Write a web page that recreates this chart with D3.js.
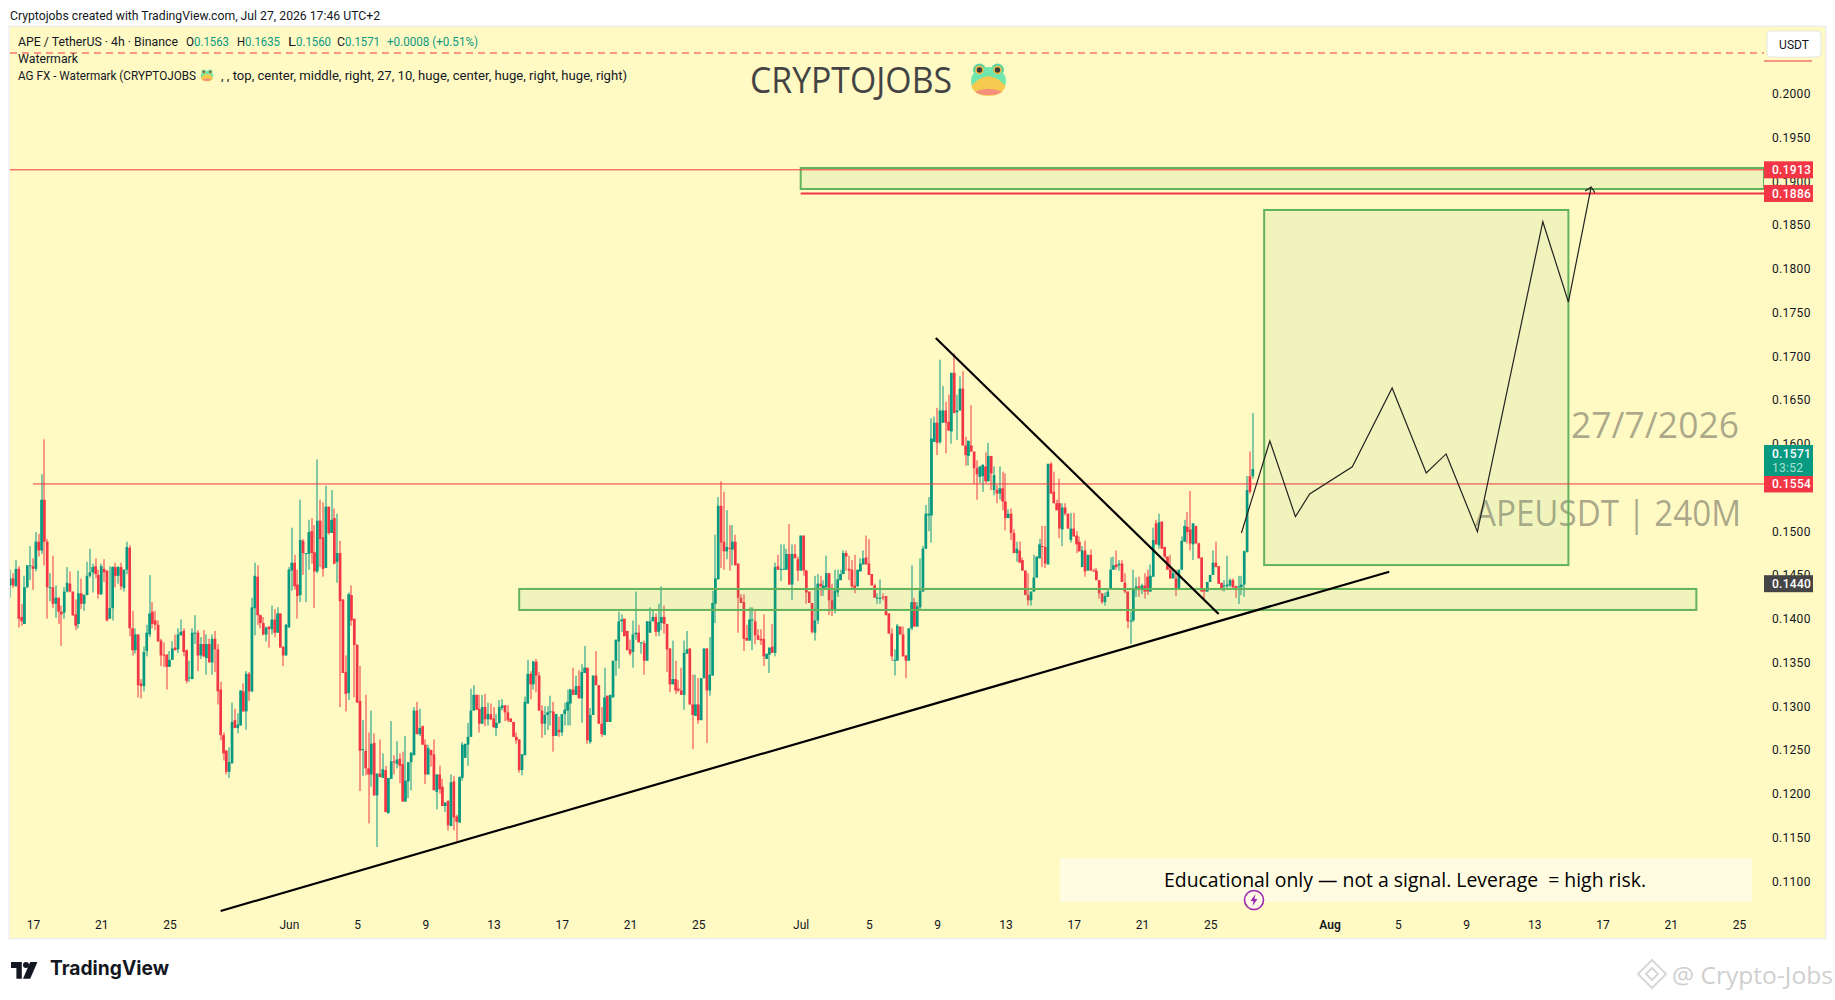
<!DOCTYPE html>
<html>
<head>
<meta charset="utf-8">
<script src="https://cdn.jsdelivr.net/npm/d3@7"></script>
<style>
  html, body { margin: 0; padding: 0; background: #fff; overflow: hidden; }
  svg { display: block; font-family: Roboto, sans-serif; }
</style>
</head>
<body>
<div id="chart"></div>
<script>
// APE/USDT 4h candles, in units of 0.0001 USDT
const opens = [
1438,1446,1437,1457,1402,1394,1436,1460,1460,1457,
1488,1478,1536,1488,1435,1436,1417,1424,1408,1407,
1431,1440,1431,1405,1394,1429,1417,1427,1449,1453,
1460,1450,1428,1457,1455,1400,1412,1459,1449,1459,
1435,1456,1481,1389,1364,1382,1326,1323,1363,1382,
1408,1398,1393,1375,1359,1359,1345,1353,1367,1365,
1381,1386,1364,1332,1331,1383,1384,1358,1371,1355,
1371,1350,1377,1365,1319,1267,1249,1225,1235,1284,
1275,1278,1317,1294,1337,1317,1412,1448,1404,1395,
1382,1391,1388,1399,1384,1406,1368,1358,1390,1455,
1464,1439,1427,1489,1474,1474,1500,1476,1454,1512,
1493,1458,1528,1498,1515,1465,1475,1422,1339,1315,
1427,1400,1370,1306,1250,1249,1229,1222,1258,1198,
1223,1218,1227,1178,1217,1237,1234,1240,1234,1191,
1214,1236,1244,1295,1268,1277,1256,1222,1250,1245,
1202,1222,1208,1186,1192,1163,1214,1174,1167,1218,
1241,1256,1265,1295,1313,1297,1280,1299,1285,1291,
1286,1275,1281,1298,1301,1293,1286,1282,1265,1262,
1227,1244,1303,1337,1325,1351,1335,1295,1280,1290,
1293,1294,1266,1273,1270,1291,1295,1303,1319,1313,
1323,1309,1338,1344,1259,1290,1335,1324,1280,1267,
1312,1282,1310,1352,1374,1397,1400,1386,1365,1362,
1382,1384,1372,1372,1352,1384,1397,1402,1385,1395,
1402,1394,1366,1325,1331,1320,1318,1313,1360,1366,
1302,1289,1302,1284,1332,1366,1318,1335,1417,1445,
1529,1488,1477,1481,1479,1488,1463,1424,1419,1378,
1375,1398,1397,1381,1377,1377,1354,1359,1368,1361,
1460,1456,1456,1456,1474,1439,1474,1468,1455,1495,
1455,1431,1418,1384,1398,1440,1435,1436,1452,1421,
1411,1430,1444,1451,1475,1457,1456,1438,1437,1454,
1462,1470,1463,1451,1438,1423,1423,1425,1426,1406,
1383,1352,1352,1391,1382,1358,1352,1389,1419,1391,
1413,1431,1480,1518,1518,1602,1624,1602,1624,1638,
1625,1614,1681,1636,1638,1663,1598,1586,1598,1591,
1572,1562,1563,1574,1557,1586,1547,1547,1543,1549,
1534,1515,1520,1498,1475,1478,1467,1455,1427,1421,
1431,1447,1469,1483,1482,1462,1577,1545,1532,1532,
1502,1527,1520,1490,1503,1495,1488,1459,1478,1455,
1473,1455,1455,1444,1429,1419,1425,1435,1456,1462,
1461,1463,1441,1431,1397,1398,1433,1437,1433,1438,
1448,1431,1448,1509,1484,1511,1482,1471,1456,1446,
1446,1435,1456,1488,1505,1502,1485,1506,1486,1470,
1433,1431,1442,1450,1464,1460,1441,1437,1437,1438,
1444,1437,1436,1436,1439,1476,1563,1563];
const highs = [
1456,1452,1467,1460,1417,1449,1461,1483,1469,1499,
1497,1565,1605,1491,1452,1472,1438,1424,1415,1436,
1459,1454,1431,1422,1455,1446,1428,1465,1480,1463,
1469,1456,1463,1468,1455,1460,1460,1464,1460,1464,
1456,1488,1484,1409,1389,1382,1331,1368,1393,1450,
1419,1409,1398,1377,1373,1359,1363,1374,1382,1389,
1399,1389,1365,1352,1389,1404,1387,1379,1387,1382,
1377,1382,1386,1371,1328,1270,1250,1253,1304,1297,
1292,1318,1326,1340,1339,1424,1464,1461,1405,1402,
1391,1391,1415,1411,1413,1406,1368,1394,1459,1504,
1473,1456,1536,1491,1475,1513,1515,1507,1582,1536,
1533,1552,1528,1547,1526,1520,1489,1422,1358,1430,
1438,1400,1371,1346,1284,1313,1270,1295,1269,1223,
1262,1246,1232,1218,1283,1244,1260,1246,1248,1266,
1236,1247,1299,1305,1297,1278,1262,1256,1250,1262,
1222,1232,1217,1190,1192,1222,1220,1176,1220,1259,
1257,1281,1320,1324,1313,1313,1313,1314,1304,1303,
1299,1291,1307,1308,1301,1301,1286,1282,1270,1262,
1245,1311,1353,1340,1352,1354,1339,1301,1300,1300,
1312,1305,1291,1288,1291,1304,1319,1320,1344,1335,
1341,1348,1369,1344,1298,1335,1363,1324,1299,1344,
1312,1313,1352,1376,1408,1405,1400,1386,1376,1398,
1431,1393,1373,1375,1397,1413,1410,1406,1417,1437,
1415,1394,1366,1375,1352,1330,1344,1375,1386,1366,
1336,1336,1332,1332,1366,1366,1379,1432,1496,1539,
1557,1545,1524,1507,1507,1496,1463,1428,1428,1393,
1413,1413,1410,1388,1388,1405,1360,1367,1394,1464,
1473,1485,1485,1480,1508,1485,1485,1471,1495,1495,
1456,1431,1418,1449,1451,1449,1444,1472,1452,1440,
1456,1456,1456,1478,1478,1472,1467,1473,1456,1469,
1478,1495,1491,1451,1440,1429,1445,1429,1426,1406,
1389,1365,1394,1391,1391,1358,1389,1461,1424,1419,
1469,1483,1530,1539,1629,1631,1641,1696,1666,1648,
1656,1681,1703,1656,1677,1683,1608,1604,1644,1591,
1581,1574,1576,1590,1601,1586,1574,1553,1574,1568,
1566,1525,1526,1502,1488,1488,1470,1455,1452,1431,
1473,1471,1491,1506,1506,1577,1579,1568,1536,1560,
1532,1532,1520,1521,1521,1500,1494,1483,1489,1473,
1479,1457,1458,1444,1429,1430,1434,1470,1471,1478,
1467,1467,1452,1431,1408,1456,1447,1448,1440,1452,
1456,1462,1504,1513,1520,1511,1482,1471,1473,1456,
1456,1456,1494,1513,1522,1546,1509,1506,1487,1470,
1435,1442,1450,1478,1488,1460,1441,1444,1472,1446,
1446,1438,1449,1449,1478,1563,1591,1635];
const lows = [
1424,1435,1437,1390,1392,1394,1435,1444,1433,1454,
1471,1474,1461,1400,1420,1412,1401,1394,1369,1400,
1430,1430,1403,1387,1389,1411,1409,1427,1447,1430,
1446,1423,1427,1442,1397,1400,1398,1436,1440,1433,
1431,1451,1380,1358,1360,1310,1309,1317,1357,1379,
1389,1387,1374,1346,1345,1319,1345,1353,1364,1361,
1381,1357,1326,1328,1331,1371,1340,1354,1356,1336,
1350,1336,1339,1302,1261,1238,1222,1218,1234,1275,
1269,1278,1294,1273,1306,1316,1381,1393,1389,1381,
1374,1367,1382,1379,1384,1367,1346,1358,1390,1432,
1433,1400,1419,1450,1419,1456,1463,1412,1452,1459,
1448,1458,1496,1498,1462,1441,1299,1338,1294,1307,
1392,1310,1304,1203,1220,1221,1166,1208,1198,1139,
1219,1218,1179,1177,1217,1222,1229,1212,1191,1191,
1195,1204,1244,1268,1266,1256,1211,1222,1231,1204,
1182,1200,1186,1179,1158,1163,1158,1146,1167,1215,
1241,1232,1265,1295,1296,1270,1280,1277,1278,1284,
1275,1266,1280,1295,1283,1282,1282,1265,1257,1224,
1221,1244,1303,1308,1319,1316,1295,1264,1267,1273,
1278,1248,1266,1265,1266,1278,1278,1278,1313,1313,
1309,1281,1338,1257,1257,1290,1324,1280,1265,1267,
1282,1282,1310,1335,1343,1385,1380,1364,1358,1344,
1376,1373,1360,1336,1352,1384,1397,1380,1380,1387,
1383,1339,1316,1325,1314,1316,1313,1296,1360,1302,
1251,1289,1280,1284,1332,1258,1312,1335,1395,1445,
1458,1456,1468,1455,1461,1461,1384,1418,1363,1375,
1375,1364,1371,1376,1370,1346,1354,1338,1361,1357,
1456,1443,1456,1456,1439,1421,1469,1443,1455,1449,
1417,1418,1383,1375,1394,1426,1426,1435,1404,1403,
1406,1425,1444,1451,1455,1444,1435,1429,1437,1454,
1462,1462,1450,1438,1424,1417,1417,1421,1404,1383,
1352,1335,1352,1382,1357,1332,1352,1387,1391,1391,
1411,1431,1480,1500,1487,1602,1587,1600,1624,1589,
1615,1600,1635,1604,1638,1598,1575,1575,1591,1554,
1536,1555,1545,1555,1557,1547,1541,1532,1536,1524,
1501,1515,1490,1475,1465,1464,1455,1427,1415,1415,
1431,1447,1469,1459,1458,1462,1543,1532,1524,1492,
1483,1518,1503,1487,1494,1475,1477,1459,1448,1455,
1455,1454,1444,1423,1417,1415,1425,1435,1456,1456,
1455,1442,1429,1389,1371,1396,1425,1425,1428,1423,
1427,1431,1448,1485,1480,1480,1469,1456,1446,1446,
1426,1435,1456,1488,1486,1478,1467,1486,1469,1431,
1421,1431,1442,1450,1459,1440,1432,1431,1433,1436,
1435,1424,1417,1427,1425,1476,1543,1560];
const closes = [
1446,1438,1457,1400,1397,1436,1461,1461,1457,1488,
1478,1536,1488,1436,1436,1417,1424,1408,1405,1431,
1441,1431,1404,1392,1429,1417,1427,1449,1453,1459,
1451,1428,1460,1453,1398,1412,1459,1449,1459,1437,
1456,1482,1389,1364,1382,1324,1323,1362,1384,1406,
1394,1393,1374,1358,1358,1345,1353,1366,1364,1382,
1385,1362,1329,1333,1384,1384,1358,1371,1357,1371,
1350,1377,1365,1317,1267,1246,1225,1236,1282,1275,
1279,1318,1294,1337,1317,1413,1449,1404,1395,1382,
1390,1388,1399,1384,1406,1367,1358,1393,1456,1464,
1437,1426,1490,1475,1475,1499,1475,1454,1512,1491,
1457,1528,1498,1513,1463,1475,1420,1338,1314,1428,
1398,1370,1304,1249,1251,1229,1222,1257,1198,1223,
1219,1228,1179,1218,1237,1236,1239,1232,1191,1215,
1236,1247,1295,1268,1275,1256,1222,1252,1244,1204,
1222,1205,1186,1190,1164,1213,1173,1168,1219,1256,
1257,1265,1295,1313,1296,1280,1299,1285,1291,1285,
1276,1281,1299,1301,1293,1284,1282,1265,1261,1227,
1245,1305,1337,1325,1351,1335,1295,1280,1290,1293,
1294,1266,1291,1270,1291,1296,1305,1319,1313,1323,
1309,1339,1344,1261,1290,1335,1324,1280,1268,1310,
1282,1313,1352,1376,1397,1399,1380,1364,1360,1382,
1384,1373,1373,1352,1397,1397,1402,1385,1396,1402,
1394,1365,1325,1331,1318,1318,1313,1361,1365,1302,
1290,1302,1284,1332,1366,1318,1336,1418,1446,1529,
1487,1477,1482,1480,1488,1461,1424,1418,1377,1375,
1399,1399,1381,1376,1375,1357,1360,1367,1361,1459,
1456,1457,1457,1474,1439,1474,1469,1455,1495,1455,
1430,1418,1385,1398,1440,1437,1438,1452,1421,1411,
1432,1445,1451,1475,1471,1455,1437,1435,1456,1463,
1469,1462,1450,1438,1424,1424,1424,1424,1404,1383,
1357,1353,1392,1382,1357,1352,1389,1419,1391,1414,
1432,1480,1520,1520,1606,1624,1601,1638,1638,1624,
1615,1681,1635,1638,1663,1598,1587,1603,1591,1572,
1565,1574,1576,1557,1586,1566,1564,1543,1549,1534,
1515,1520,1498,1475,1480,1464,1455,1427,1421,1431,
1447,1471,1485,1482,1463,1577,1543,1532,1524,1503,
1527,1520,1503,1503,1494,1485,1477,1478,1454,1473,
1455,1454,1444,1429,1419,1426,1431,1456,1461,1459,
1463,1442,1431,1397,1398,1433,1437,1433,1438,1431,
1431,1449,1490,1485,1510,1480,1471,1456,1446,1452,
1435,1456,1489,1506,1499,1486,1509,1486,1469,1431,
1431,1442,1450,1464,1459,1440,1435,1438,1439,1444,
1436,1435,1437,1439,1477,1547,1545,1571];

const lastBar = "2026-07-27T12:00";
const barHours = 4;

const priceTicks = [0.2,0.195,0.19,0.185,0.18,0.175,0.17,0.165,0.16,0.155,0.15,0.145,0.14,0.135,0.13,0.125,0.12,0.115,0.11];
const timeTicks = ["2026-05-17","2026-05-21","2026-05-25","2026-06-01","2026-06-05","2026-06-09","2026-06-13","2026-06-17","2026-06-21","2026-06-25","2026-07-01","2026-07-05","2026-07-09","2026-07-13","2026-07-17","2026-07-21","2026-07-25","2026-08-01","2026-08-05","2026-08-09","2026-08-13","2026-08-17","2026-08-21","2026-08-25"];

// drawings on the chart, as [time, price]
const supportLine = [["2026-05-28T00:00",0.1066],["2026-08-04T12:00",0.14537]];
const resistanceLine = [["2026-07-08T22:00",0.17208],["2026-07-25T12:00",0.14054]];
const projection = [["2026-07-26T20:00",0.14979],["2026-07-28T12:00",0.16031],["2026-07-30T00:00",0.15166],["2026-07-30T20:00",0.15425],["2026-08-02T08:00",0.15737],["2026-08-04T16:00",0.16637],["2026-08-06T16:00",0.15665],["2026-08-07T20:00",0.15883],["2026-08-09T16:00",0.14994],["2026-08-13T12:00",0.18537],["2026-08-15T00:00",0.17619],["2026-08-16T08:00",0.18934]];
const zones = [
  { from: "2026-07-01T00:00", to: null, top: 0.19151, bottom: 0.18911 },
  { from: "2026-06-14T12:00", to: "2026-08-22T12:00", top: 0.1434, bottom: 0.141 },
  { from: "2026-07-28T04:00", to: "2026-08-15T00:00", top: 0.18671, bottom: 0.14613 }
];

const width = 1835, height = 1000;
const pane = { left: 10, right: 1825, top: 27, bottom: 938, axis: 1764 };
const GREEN = "#089981", RED = "#f23645", ZONE = "#62b35b", BG = "#fff9c4", TEXT = "#131722";

const parse = d3.utcParse("%Y-%m-%dT%H:%M");
const parseDay = d3.utcParse("%Y-%m-%d");

const x = d3.scaleUtc().domain([parseDay("2026-05-17"), parseDay("2026-08-25")]).range([33, 1739]);
const y = d3.scaleLinear().domain([0.11, 0.2]).range([881.2, 93.7]);

const end = parse(lastBar);
const bars = closes.map((c, i) => ({
  date: new Date(+end - (closes.length - 1 - i) * barHours * 3600e3),
  open: opens[i] / 1e4, high: highs[i] / 1e4, low: lows[i] / 1e4, close: c / 1e4
}));

const svg = d3.select("#chart").append("svg").attr("width", width).attr("height", height);

svg.append("defs").append("clipPath").attr("id", "plot").append("rect")
  .attr("x", pane.left).attr("y", pane.top)
  .attr("width", pane.axis - pane.left).attr("height", pane.bottom - pane.top);
svg.select("defs").append("marker")
  .attr("id", "head").attr("viewBox", "0 0 10 10").attr("refX", 9).attr("refY", 5)
  .attr("markerWidth", 10).attr("markerHeight", 10).attr("orient", "auto")
  .attr("markerUnits", "userSpaceOnUse")
  .append("path").attr("d", "M4,0L9,5L4,10").attr("fill", "none").attr("stroke", "#222").attr("stroke-width", 1.2);

// pane background
svg.append("rect").attr("x", pane.left - 0.75).attr("y", pane.top - 0.75)
  .attr("width", pane.right - pane.left + 1.5).attr("height", pane.bottom - pane.top + 1.5)
  .attr("fill", "none").attr("stroke", "#eeeeea").attr("stroke-width", 1.5);
svg.append("rect").attr("x", pane.left).attr("y", pane.top)
  .attr("width", pane.right - pane.left).attr("height", pane.bottom - pane.top)
  .attr("fill", BG);

const plot = svg.append("g").attr("clip-path", "url(#plot)");

// candles
const candle = plot.selectAll(".candle").data(bars).join("g").attr("class", "candle")
  .attr("fill", (d) => (d.close >= d.open ? GREEN : RED))
  .attr("stroke", "none");
candle.append("rect")
  .attr("x", (d) => Math.round(x(d.date)) - 0.5).attr("width", 1)
  .attr("y", (d) => y(d.high)).attr("height", (d) => y(d.low) - y(d.high));
candle.append("rect")
  .attr("x", (d) => x(d.date) - 1.35).attr("width", 2.7)
  .attr("y", (d) => y(Math.max(d.open, d.close)))
  .attr("height", (d) => Math.max(1, Math.abs(y(d.open) - y(d.close))));

// watermark
const big = (txt, xx, yy, len, fill) => svg.append("text").text(txt)
  .attr("x", xx).attr("y", yy).attr("textLength", len).attr("lengthAdjust", "spacingAndGlyphs")
  .style("font-family", "'Open Sans', sans-serif").style("font-size", "36px").attr("fill", fill);
big("CRYPTOJOBS", 750, 93, 202, "#434343");
big("27/7/2026", 1571, 438, 168, "rgba(67,67,67,0.45)");
big("APEUSDT | 240M", 1475, 526, 266, "rgba(67,67,67,0.45)");

const frog = (cx, cy, s) => {
  const g = svg.append("g").attr("transform", `translate(${cx},${cy}) scale(${s})`);
  g.append("circle").attr("cx", -9).attr("cy", -10).attr("r", 6.5).attr("fill", "#5fd3a0");
  g.append("circle").attr("cx", 9).attr("cy", -10).attr("r", 6.5).attr("fill", "#5fd3a0");
  g.append("ellipse").attr("rx", 17.5).attr("ry", 14).attr("cy", 1).attr("fill", "#6fe6ad");
  g.append("path").attr("d", "M-17,6C-11,-1 -6,-3 0,-4C6,-3 11,-1 17,6C15,13 8,16 0,16C-8,16 -15,13 -17,6Z").attr("fill", "#f6c94f");
  g.append("path").attr("d", "M-13,12C-8,8 8,8 13,12C9,16 -9,16 -13,12Z").attr("fill", "#f58f7c");
  [-9, 9].forEach((ex) => {
    g.append("circle").attr("cx", ex).attr("cy", -10).attr("r", 4.2).attr("fill", "#f6b73c");
    g.append("circle").attr("cx", ex).attr("cy", -10).attr("r", 2.7).attr("fill", "#3d3d3d");
  });
};
frog(988.5, 80, 1);

// zones
const zoneG = svg.append("g").attr("clip-path", "url(#plot)");
zoneG.selectAll("rect").data(zones).join("rect")
  .attr("x", (d) => x(parse(d.from)))
  .attr("y", (d) => y(d.top))
  .attr("width", (d) => (d.to ? x(parse(d.to)) : pane.axis) - x(parse(d.from)))
  .attr("height", (d) => y(d.bottom) - y(d.top))
  .attr("fill", "rgba(90,180,100,0.085)").attr("stroke", ZONE).attr("stroke-width", 2);

// horizontal levels
const levels = [
  { price: 0.20465, from: pane.left, w: 1.2, dash: "7 5" },
  { price: 0.1913, from: pane.left, w: 1 },
  { price: 0.1886, from: x(parse("2026-07-01T00:00")), w: 2 },
  { price: 0.1554, from: x(parse("2026-05-17T00:00")), w: 1 }
];
zoneG.selectAll("line").data(levels).join("line")
  .attr("x1", (d) => d.from).attr("x2", pane.axis)
  .attr("y1", (d) => y(d.price)).attr("y2", (d) => y(d.price))
  .attr("stroke", RED).attr("stroke-width", (d) => d.w)
  .attr("stroke-dasharray", (d) => d.dash || null);

// drawings
const line = d3.line().x((d) => x(parse(d[0]))).y((d) => y(d[1]));
svg.append("path").attr("d", line(supportLine)).attr("fill", "none").attr("stroke", "#000").attr("stroke-width", 2.2);
svg.append("path").attr("d", line(resistanceLine)).attr("fill", "none").attr("stroke", "#000").attr("stroke-width", 2.2);
svg.append("path").attr("d", line(projection)).attr("fill", "none").attr("stroke", "#222").attr("stroke-width", 1.2)
  .attr("marker-end", "url(#head)");

// disclaimer
svg.append("rect").attr("x", 1060).attr("y", 858).attr("width", 692).attr("height", 44).attr("fill", "#fffce2");
svg.append("text").text("Educational only — not a signal. Leverage  = high risk.")
  .attr("x", 1164).attr("y", 887).attr("textLength", 482).attr("lengthAdjust", "spacingAndGlyphs")
  .style("white-space", "pre")
  .style("font-family", "'Open Sans', sans-serif").style("font-size", "20px").attr("fill", "#000");

// lightning marker on the last bar
const bolt = svg.append("g").attr("transform", "translate(1254,900)");
bolt.append("circle").attr("r", 9.5).attr("fill", "#fff9e6").attr("stroke", "#9c27b0").attr("stroke-width", 1.6);
bolt.append("path").attr("d", "M1.5,-6L-3.5,1H-0.5L-1.5,6L3.5,-1H0.5Z").attr("fill", "#9c27b0");

// axes
const yAxis = svg.append("g").attr("transform", `translate(${pane.axis},0)`)
  .call(d3.axisRight(y).tickValues(priceTicks).tickFormat(d3.format(".4f")).tickSize(0).tickPadding(8));
yAxis.select(".domain").remove();
yAxis.selectAll("text").attr("fill", TEXT).style("font-family", "Roboto, sans-serif").style("font-size", "12px").style("letter-spacing", "0.3px");

const monthStart = d3.utcFormat("%d");
const xAxis = svg.append("g").attr("transform", "translate(0,920)")
  .call(d3.axisBottom(x).tickValues(timeTicks.map((d) => parseDay(d)))
    .tickFormat((d) => (monthStart(d) === "01" ? d3.utcFormat("%b")(d) : +monthStart(d))).tickSize(0).tickPadding(0));
xAxis.select(".domain").remove();
xAxis.selectAll("text").attr("fill", TEXT).style("font-family", "Roboto, sans-serif").style("font-size", "12px")
  .style("font-weight", (d) => (d3.utcFormat("%b%d")(d) === "Aug01" ? 600 : 400));

// USDT button
svg.append("rect").attr("x", 1767).attr("y", 31).attr("width", 54).attr("height", 26).attr("rx", 4)
  .attr("fill", "#fff").attr("stroke", "#e6e6e0");
svg.append("text").text("USDT").attr("x", 1794).attr("y", 48.5).attr("text-anchor", "middle")
  .attr("fill", TEXT).style("font-size", "12px");
svg.append("line").attr("x1", pane.axis).attr("x2", 1812).attr("y1", 61).attr("y2", 61).attr("stroke", RED);

// price labels
const priceLabels = [
  { price: 0.1913, fill: RED },
  { price: 0.1886, fill: RED },
  { price: 0.1554, fill: RED },
  { price: 0.144, fill: "#454545" }
];
const tag = svg.selectAll(".tag").data(priceLabels).join("g").attr("class", "tag");
tag.append("rect").attr("x", pane.axis).attr("width", 49).attr("height", 17)
  .attr("y", (d) => y(d.price) - 8.5).attr("fill", (d) => d.fill);
tag.append("text").text((d) => d3.format(".4f")(d.price))
  .attr("x", 1772).attr("y", (d) => y(d.price) + 4.5)
  .attr("fill", "#fff").style("font-size", "12px").style("font-weight", 500).style("letter-spacing", "0.3px");

const lastPrice = bars[bars.length - 1].close;
svg.append("rect").attr("x", pane.axis).attr("y", 445).attr("width", 49).attr("height", 31).attr("fill", GREEN);
svg.append("text").text(d3.format(".4f")(lastPrice)).attr("x", 1772).attr("y", 457.5)
  .attr("fill", "#fff").style("font-size", "12px").style("font-weight", 500).style("letter-spacing", "0.3px");
svg.append("text").text("13:52").attr("x", 1772).attr("y", 472)
  .attr("fill", "#a8e0d2").style("font-size", "12px").style("letter-spacing", "0.3px");

// legend
const legendFont = "Roboto, sans-serif";
const label = (txt, xx, yy, len, fill) => svg.append("text").text(txt)
  .attr("x", xx).attr("y", yy).attr("textLength", len).attr("lengthAdjust", "spacingAndGlyphs")
  .attr("fill", fill).style("font-family", legendFont).style("font-size", "12px");

const legendKeys = ["O", "H", "L", "C"];
const legendVals = [0.1563, 0.1635, 0.156, 0.1571];
label("Cryptojobs created with TradingView.com, Jul 27, 2026 17:46 UTC+2", 10, 20, 370, TEXT);
label("APE / TetherUS · 4h · Binance", 18, 46, 160, TEXT);
legendKeys.forEach((k, i) => {
  const lx = [186, 237, 288, 337][i];
  label(k, lx, 46, 8, TEXT);
  label(d3.format(".4f")(legendVals[i]), lx + 8, 46, 35, GREEN);
});
label("+0.0008 (+0.51%)", 387, 46, 91, GREEN);
label("Watermark", 18, 63, 60, TEXT);
label("AG FX - Watermark (CRYPTOJOBS", 18, 80, 178, TEXT);
frog(207, 75.5, 0.36);
label(", , top, center, middle, right, 27, 10, huge, center, huge, right, huge, right)", 221, 80, 406, TEXT);

// footer logo
const tv = svg.append("g").attr("transform", "translate(11,962) scale(1.2)").attr("fill", "#131722");
tv.append("path").attr("d", "M0,0H9V14H4.5V5H0Z");
tv.append("circle").attr("cx", 12.5).attr("cy", 2.5).attr("r", 2.5);
tv.append("path").attr("d", "M16,0H22L16,14H10Z");
svg.append("text").text("TradingView").attr("x", 50).attr("y", 975).attr("textLength", 119)
  .attr("lengthAdjust", "spacingAndGlyphs").attr("fill", "#131722")
  .style("font-family", "Inter, sans-serif").style("font-weight", 700).style("font-size", "20px");

// bottom right watermark
const mark = svg.append("g").attr("transform", "translate(1652,974)").attr("fill", "none").attr("stroke", "#d8d8d8").attr("stroke-width", 2);
mark.append("path").attr("d", "M0,-14L14,0L0,14L-14,0Z");
mark.append("path").attr("d", "M0,-6L6,0L0,6L-6,0Z");
svg.append("text").text("@ Crypto-Jobs").attr("x", 1672).attr("y", 984).attr("textLength", 161)
  .attr("lengthAdjust", "spacingAndGlyphs").attr("fill", "#cfcfcf")
  .style("font-family", "'Open Sans', sans-serif").style("font-size", "24px");
</script>
</body>
</html>
